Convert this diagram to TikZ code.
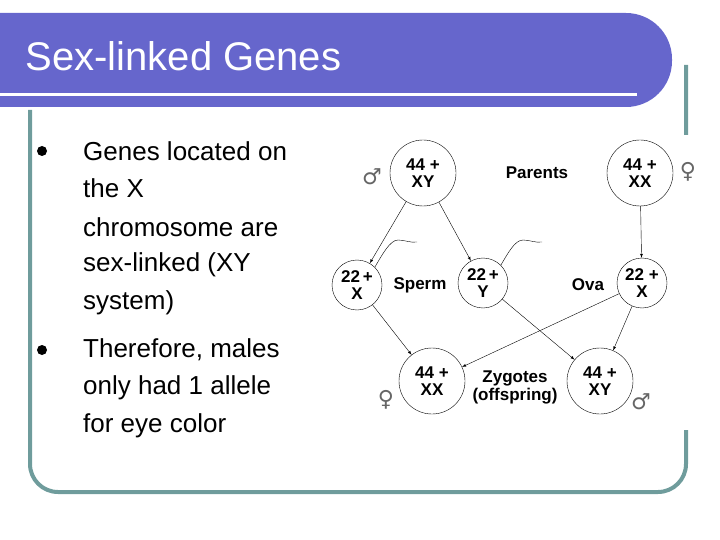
\documentclass[tikz,border=0pt]{standalone}
\usepackage{fontspec}
\setmainfont{Liberation Sans}
\newfontfamily\symfont{DejaVu Sans}
\usetikzlibrary{arrows,calc,positioning}
\definecolor{barblue}{HTML}{6666CC}
\definecolor{frame}{HTML}{6F9C9C}
\begin{document}
\begin{tikzpicture}[x=1pt,y=-1pt]
\tikzstyle{cell}=[draw,circle,minimum size=66pt,inner sep=0pt,align=center,font=\fontsize{17}{17}\selectfont\bfseries]
\tikzstyle{gamete}=[cell,minimum size=50pt]
\tikzstyle{stage}=[align=center,font=\fontsize{17}{18}\selectfont\bfseries]
\tikzstyle{sex}=[font=\symfont\fontsize{22}{22}\selectfont,text=black!60]
\tikzstyle{bodytext}=[anchor=west,inner sep=0pt,font=\fontsize{26}{26}\selectfont]
\tikzstyle{bullet}=[circle,fill=black,inner sep=0pt,minimum size=10pt]
\useasboundingbox (0,0) rectangle (720,540);
% frame and title bar
\draw[frame,line width=4pt,rounded corners=28pt] (30,110) -- (30,492) -- (686,492) -- (686,65);
\fill[white] (337,135) rectangle (700,430);
\fill[barblue,rounded corners=46pt] (-50,13) rectangle (672,107);
\fill[barblue] (0,13) rectangle (100,107);
\draw[white,line width=3pt] (0,95) -- (637,95);
\node[anchor=west,text=white,font=\fontsize{40}{40}\selectfont] (title) at (22,56) {Sex-linked Genes};
% bullet text
\node[bullet] (b1) at (42,151) {};
\node[bullet] (b2) at (42,350) {};
\foreach \y/\txt [count=\i] in {151/{Genes located on},188/{the X},227/{chromosome are},265/{sex-linked (XY},303/{system)},350/{Therefore, males},388/{only had 1 allele},426/{for eye color}}
  \node[bodytext] (line\i) at (83,\y) {\txt};
% diagram
\node[cell] (pm) at (423,173) {44 +\\XY};
\node[cell] (pf) at (640,173) {44 +\\XX};
\node[gamete] (sx) at (357,285) {22\,+\\X};
\node[gamete] (sy) at (483,283) {22\,+\\Y};
\node[gamete] (ov) at (642,283) {22 +\\X};
\node[cell] (zf) at (432,381) {44 +\\XX};
\node[cell] (zm) at (600,381) {44 +\\XY};
\node[stage] (parents) at (537,173) {Parents};
\node[stage] (sperm) at (420,285) {Sperm};
\node[stage] (ova) at (588,285) {Ova};
\node[stage] (zyg) at (515,387) {Zygotes\\(offspring)};
\node[sex] (m1) at (372,177) {♂};
\node[sex] (f1) at (688,172) {♀};
\node[sex] (f2) at (386,400) {♀};
\node[sex] (m2) at (641,402) {♂};
% tails
\draw (sx.north east) .. controls (382,255) and (390,240) .. (398,240) .. controls (405,240) and (410,243) .. (417,242);
\draw (sy.north east) .. controls (508,253) and (515,240) .. (523,240) .. controls (530,240) and (535,243) .. (542,242);
% arrows
\foreach \a/\b in {pm/sx,pm/sy,pf/ov,sx/zf,sy/zm,ov/zf,ov/zm}
  \draw[-latex] (\a) -- (\b);
\end{tikzpicture}
\end{document}
